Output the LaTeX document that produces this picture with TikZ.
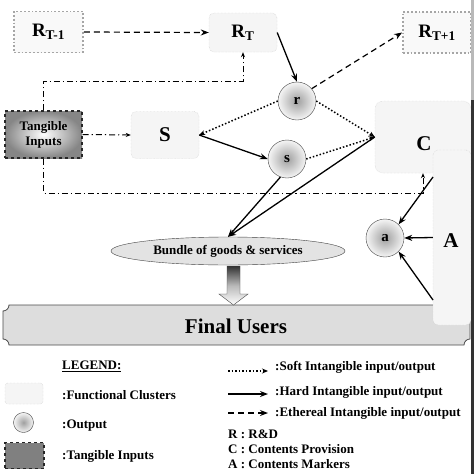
\documentclass[tikz,border=0pt]{standalone}
\usepackage{fontspec}
\setmainfont{Liberation Serif}
\usetikzlibrary{arrows.meta,shapes.geometric}
\begin{document}
\begin{tikzpicture}[x=1pt,y=-1pt, font=\bfseries,
 cluster/.style={draw=gray!45, densely dotted, fill=gray!8, rounded corners=5pt, inner sep=0pt},
 prevbox/.style={draw=gray!70, dotted, line width=1.8pt, fill=gray!5, inner sep=0pt},
 outc/.style={circle, draw=gray!55!black, thin, inner color=gray!75, outer color=gray!8, minimum size=38pt, inner sep=0pt, font=\bfseries\fontsize{15}{15}\selectfont},
 hard/.style={line width=1.3pt, -{Stealth[length=8pt,width=6pt]}},
 soft/.style={line width=1.5pt, dotted, -{Stealth[length=6pt,width=5pt]}},
 ether/.style={line width=1.2pt, dash pattern=on 6pt off 4pt, -{Stealth[length=8pt,width=6pt]}},
 dd/.style={line width=1pt, dash pattern=on 6pt off 3pt on 1.2pt off 3pt},
 ddarrow/.style={dd, -{Stealth[length=5pt,width=4pt]}},
 big/.style={font=\bfseries\fontsize{19}{19}\selectfont},
 leg/.style={font=\bfseries\fontsize{13}{13}\selectfont, anchor=west, inner sep=0pt},
]
\useasboundingbox (0,0) rectangle (474,474);
\fill[white] (0,0) rectangle (474,474);

% boxes
\node[prevbox, minimum width=69pt, minimum height=41pt, big] (RTm) at (48.5,32) {R\textsubscript{T-1}};
\node[cluster, minimum width=68pt, minimum height=39pt, big] (RT) at (243,32.5) {R\textsubscript{T}};
\node[prevbox, minimum width=68pt, minimum height=41pt, big] (RTp) at (437,32.5) {R\textsubscript{T+1}};
\node[cluster, minimum width=68pt, minimum height=47pt, font=\bfseries\fontsize{21}{21}\selectfont] (S) at (165,135) {S};
\node[draw=black!85, dashed, line width=1.3pt, inner color=white, outer color=gray!95,
      minimum width=77pt, minimum height=47pt, inner sep=0pt, align=center,
      font=\bfseries\fontsize{13}{15}\selectfont] (TI) at (43.5,134.5) {Tangible\\Inputs};
\node[cluster, rounded corners=8pt, minimum width=96pt, minimum height=72pt] (C) at (423,137) {};
\node[font=\bfseries\fontsize{21}{21}\selectfont] (Ct) at (424,144) {C};

\node[outc] (r) at (297,101) {r};
\node[outc] (s) at (287,159) {s};
\node[outc] (a) at (385,238) {a};

\node[ellipse, draw=gray!50!black, fill=gray!22, minimum width=234pt, minimum height=28pt, inner sep=0pt,
      font=\bfseries\fontsize{13}{13}\selectfont] (B) at (228,251) {Bundle of goods \& services};

% banner
\path[draw=gray!60!black, fill=gray!27, line width=0.8pt]
 (9,305) -- (464,305) .. controls (464,308.3) and (466.7,311) .. (470,311)
 -- (470,339) .. controls (466.7,339) and (464,341.7) .. (464,345)
 -- (9,345) .. controls (9,341.7) and (6.3,339) .. (3,339)
 -- (3,311) .. controls (6.3,311) and (9,308.3) .. (9,305) -- cycle;
\node[font=\bfseries\fontsize{21}{21}\selectfont] (FU) at (236,326) {Final Users};

% hollow arrow
\path[draw=gray!55!black, top color=black!80, bottom color=white, middle color=gray!55]
 (227,266) -- (240,266) -- (240,294) -- (248,294) -- (233.5,305) -- (219,294) -- (227,294) -- cycle;

% A box
\node[cluster, minimum width=38pt, minimum height=175pt] (A) at (452,237.5) {};
\node[font=\bfseries\fontsize{21}{21}\selectfont] (At) at (451,241) {A};

% connectors
\draw[ether] (RTm.east) -- (RT.west);
\draw[hard] (RT.east) -- (r.north);
\draw[ether] (r.40) -- (RTp.west);
\draw[soft] (r.west) -- (S.east);
\draw[hard] (S.east) -- (s.west);
\draw[soft] (r.east) -- (C.west);
\draw[soft] (s.east) -- (C.west);
\draw[hard] (s.250) -- (B.north);
\draw[hard] (C.west) -- (B.north);

\coordinate (k1) at (43.5,81);
\coordinate (k2) at (243,81);
\draw[ddarrow] (TI.north) -- (k1) -- (k2) -- (RT.south);
\coordinate (k3) at (43.5,193);
\coordinate (k4) at (423,193);
\draw[ddarrow] (TI.south) -- (k3) -- (k4) -- (C.south);
\draw[ddarrow] (TI.east) -- (S.west);

\coordinate (a1) at (433,177);
\coordinate (a3) at (433,300);
\draw[hard] (a1) -- (a.45);
\draw[hard] (A.west) -- (a.east);
\draw[hard] (a3) -- (a.-45);

% legend
\node[leg] (lg) at (62,366) {\underline{LEGEND:}};
\node[cluster, rounded corners=3pt, minimum width=38pt, minimum height=21pt] (l1) at (24,393.5) {};
\node[leg] (l1t) at (62,395) {:Functional Clusters};
\node[outc, minimum size=20pt] (l2) at (23.5,422.5) {};
\node[leg] (l2t) at (62,426) {:Output};
\node[draw=black!85, dashed, line width=1.3pt, fill=black!50, minimum width=39pt, minimum height=26pt, inner sep=0pt] (l3) at (24.5,455.5) {};
\node[leg] (l3t) at (62,456) {:Tangible Inputs};

\coordinate (p1) at (228,371); \coordinate (q1) at (268,371);
\coordinate (p2) at (228,394); \coordinate (q2) at (268,394);
\coordinate (p3) at (228,413); \coordinate (q3) at (268,413);
\draw[soft, line width=1.3pt] (p1) -- (q1);
\draw[hard] (p2) -- (q2);
\draw[ether] (p3) -- (q3);
\node[leg] (m1) at (275,367) {:Soft Intangible input/output};
\node[leg] (m2) at (275,392) {:Hard Intangible input/output};
\node[leg] (m3) at (275,413) {:Ethereal Intangible input/output};
\node[leg] (n1) at (228,434) {R : R\&D};
\node[leg] (n2) at (228,449) {C : Contents Provision};
\node[leg] (n3) at (228,464) {A : Contents Markers};

% right edge strip
\fill[gray!55] (471,0) rectangle (474,100);
\fill[black!80] (471,100) rectangle (474,474);
\end{tikzpicture}
\end{document}
